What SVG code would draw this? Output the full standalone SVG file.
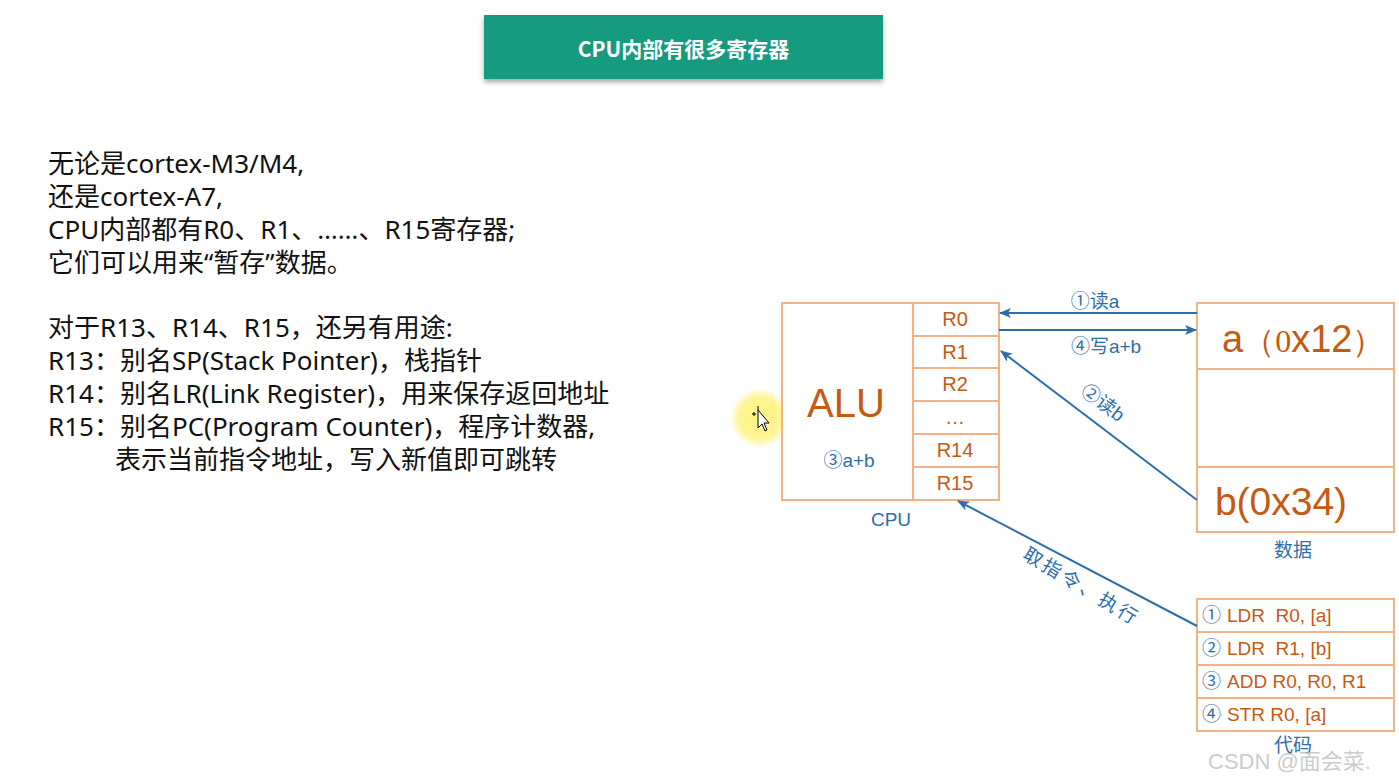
<svg xmlns="http://www.w3.org/2000/svg" width="1399" height="780" viewBox="0 0 1399 780">
<defs>
<style>
.t{font-family:"Liberation Sans","Noto Sans CJK SC",sans-serif;}
.body{font-family:"Noto Sans","Noto Sans CJK SC",sans-serif;font-size:26px;fill:#111;}
.box{fill:#fff;stroke:#f4b183;stroke-width:2;}
.div{stroke:#f4b183;stroke-width:2;fill:none;}
.reg{font-size:20px;fill:#c55a11;text-anchor:middle;}
.blue{fill:#2e6ea8;}
.brown{fill:#c55a11;}
.lbl{font-size:19px;}
.conn{stroke:#2e6ea8;stroke-width:2;fill:none;}
</style>
<marker id="ah" viewBox="0 0 12 10" refX="11" refY="5" markerWidth="12" markerHeight="10" markerUnits="userSpaceOnUse" orient="auto">
<path d="M0,0 L12,5 L0,10 L3,5 z" fill="#2e6ea8"/>
</marker>
<filter id="sh" x="-5%" y="-20%" width="110%" height="150%">
<feDropShadow dx="0" dy="3" stdDeviation="2.5" flood-color="#000" flood-opacity="0.35"/>
</filter>
<radialGradient id="glow">
<stop offset="0" stop-color="#fff27a" stop-opacity="0.95"/>
<stop offset="0.7" stop-color="#fff27a" stop-opacity="0.8"/>
<stop offset="1" stop-color="#fff27a" stop-opacity="0"/>
</radialGradient>
</defs>
<rect width="1399" height="780" fill="#fff"/>

<g id="title">
<rect x="484" y="15" width="399" height="64" fill="#189b80" filter="url(#sh)"/>
<text x="683.5" y="57" font-family="Noto Sans CJK SC, sans-serif" font-size="21" font-weight="bold" fill="#fff" text-anchor="middle">CPU内部有很多寄存器</text>
</g>

<g id="description" class="body">
<text x="48" y="173">无论是cortex-M3/M4,</text>
<text x="48" y="206">还是cortex-A7,</text>
<text x="48" y="239">CPU内部都有R0、R1、……、R15寄存器;</text>
<text x="48" y="272">它们可以用来“暂存”数据。</text>
<text x="48" y="337">对于R13、R14、R15，还另有用途:</text>
<text x="48" y="370">R13：别名SP(Stack Pointer)，栈指针</text>
<text x="48" y="403">R14：别名LR(Link Register)，用来保存返回地址</text>
<text x="48" y="436">R15：别名PC(Program Counter)，程序计数器,</text>
<text x="115" y="469">表示当前指令地址，写入新值即可跳转</text>
</g>

<g id="cursor">
<circle cx="760" cy="418" r="30" fill="url(#glow)"/>
<path d="M758,410 L758,428 L762,424 L765,431 L767,430 L764,423 L769,423 Z" fill="#fff" stroke="#000" stroke-width="1"/>
<path d="M752,414 L756,414 M754,412 L754,416 M758,406 L758,410" stroke="#000" stroke-width="1"/>
</g>

<g id="cpu">
<rect class="box" x="782" y="303" width="217" height="197"/>
<line class="div" x1="913" y1="303" x2="913" y2="500"/>
<line class="div" x1="913" y1="336" x2="999" y2="336"/>
<line class="div" x1="913" y1="368" x2="999" y2="368"/>
<line class="div" x1="913" y1="401" x2="999" y2="401"/>
<line class="div" x1="913" y1="434" x2="999" y2="434"/>
<line class="div" x1="913" y1="467" x2="999" y2="467"/>
<text class="t reg" x="955" y="326">R0</text>
<text class="t reg" x="955" y="359">R1</text>
<text class="t reg" x="955" y="391">R2</text>
<text class="t reg" x="955" y="424" font-size="14" fill="#b07050">…</text>
<text class="t reg" x="955" y="457">R14</text>
<text class="t reg" x="955" y="490">R15</text>
<text class="t brown" x="846" y="417" font-size="40" text-anchor="middle">ALU</text>
<text class="t blue" x="849" y="467" font-size="19" text-anchor="middle">③a+b</text>
<text class="t blue" x="891" y="526" font-size="19" text-anchor="middle">CPU</text>
</g>

<g id="data">
<rect class="box" x="1197" y="303" width="197" height="229"/>
<line class="div" x1="1197" y1="369" x2="1394" y2="369"/>
<line class="div" x1="1197" y1="467" x2="1394" y2="467"/>
<text class="t brown" x="1222" y="352" font-size="38">a<tspan font-family="Liberation Serif,serif" font-size="32">（0</tspan>x12<tspan font-family="Liberation Serif,serif" font-size="32">）</tspan></text>
<text class="t brown" x="1281" y="515" font-size="39" text-anchor="middle">b(0x34)</text>
<text class="t blue" x="1293" y="557" font-size="19" text-anchor="middle">数据</text>
</g>

<g id="code">
<rect class="box" x="1197" y="599" width="197" height="132"/>
<line class="div" x1="1197" y1="632" x2="1394" y2="632"/>
<line class="div" x1="1197" y1="665" x2="1394" y2="665"/>
<line class="div" x1="1197" y1="698" x2="1394" y2="698"/>
<text class="t lbl" x="1202" y="622"><tspan class="blue">①</tspan><tspan class="brown" dx="6" xml:space="preserve">LDR  R0, [a]</tspan></text>
<text class="t lbl" x="1202" y="655"><tspan class="blue">②</tspan><tspan class="brown" dx="6" xml:space="preserve">LDR  R1, [b]</tspan></text>
<text class="t lbl" x="1202" y="688"><tspan class="blue">③</tspan><tspan class="brown" dx="6">ADD R0, R0, R1</tspan></text>
<text class="t lbl" x="1202" y="721"><tspan class="blue">④</tspan><tspan class="brown" dx="6">STR R0, [a]</tspan></text>
<text class="t blue" x="1293" y="752" font-size="19" text-anchor="middle">代码</text>
</g>

<g id="connectors">
<line class="conn" x1="1197" y1="313" x2="1000" y2="313" marker-end="url(#ah)"/>
<line class="conn" x1="999" y1="330" x2="1196" y2="330" marker-end="url(#ah)"/>
<line class="conn" x1="1197" y1="500" x2="1001" y2="351" marker-end="url(#ah)"/>
<line class="conn" x1="1197" y1="626" x2="958" y2="501" marker-end="url(#ah)"/>
<text class="t blue" x="1095" y="308" font-size="19" text-anchor="middle">①读a</text>
<text class="t blue" x="1106" y="353" font-size="19" text-anchor="middle">④写a+b</text>
<text class="t blue" font-size="19" text-anchor="middle" transform="translate(1099,408) rotate(37)">②读b</text>
<text class="t blue" font-size="19" letter-spacing="3" text-anchor="middle" transform="translate(1078,592) rotate(31)">取指令、执行</text>
</g>

<g id="watermark">
<text class="t" x="1208" y="769" font-size="22" fill="#bdbdbd" fill-opacity="0.8">CSDN @面会菜.</text>
</g>
</svg>
